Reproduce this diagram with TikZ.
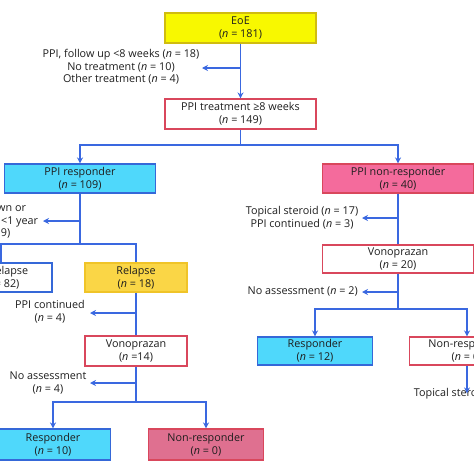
\documentclass[tikz,border=0pt]{standalone}
\usepackage{fontspec}
\setmainfont{Open Sans}
\usetikzlibrary{arrows.meta}
\definecolor{cyanf}{HTML}{4FD8FB}
\definecolor{blueb}{HTML}{3568D8}
\definecolor{redb}{HTML}{D9475C}
\definecolor{pinkf}{HTML}{F46B9C}
\definecolor{pinkd}{HTML}{DF7090}
\definecolor{yelf}{HTML}{F8F800}
\definecolor{yelb}{HTML}{D0BC10}
\definecolor{goldf}{HTML}{FAD646}
\definecolor{goldb}{HTML}{F0C428}
\definecolor{arr}{HTML}{3A68E0}
\definecolor{txt}{HTML}{1E1E1E}
\newcommand{\nv}[1]{(\textit{n} = #1)}
\begin{document}
\begin{tikzpicture}[x=1pt,y=-1pt,
  every node/.style={font=\fontsize{10.8}{12.6}\selectfont, text=txt},
  box/.style={draw, line width=1.1pt, inner sep=0pt, align=center, minimum height=30pt},
  wbox/.style={box, minimum width=151pt},
  nbox/.style={box, minimum width=102pt},
  sbox/.style={box, minimum width=115pt},
  lab/.style={align=center, inner sep=0pt},
  conn/.style={draw=arr, line width=1.1pt},
  arrw/.style={conn, -{Stealth[length=6pt,width=6pt]}}]
\useasboundingbox (0,0) rectangle (474,474);
\clip (0,0) rectangle (474,474);
% nodes
\node[wbox, fill=yelf, draw=yelb] (eoe) at (240.5,28) {EoE\\\nv{181}};
\node[wbox, fill=white, draw=redb] (ppi) at (240.5,114) {PPI treatment ≥8 weeks\\\nv{149}};
\node[wbox, fill=cyanf, draw=blueb, minimum height=29pt] (resp) at (80,178.5) {PPI responder\\\nv{109}};
\node[wbox, fill=pinkf, draw=redb, minimum height=29pt] (nonresp) at (398,178.5) {PPI non-responder\\\nv{40}};
\node[nbox, fill=white, draw=blueb, minimum height=29pt] (norel) at (1,277.5) {No relapse\\\nv{82}};
\node[nbox, fill=goldf, draw=goldb, minimum height=29pt] (rel) at (136,277.5) {Relapse\\\nv{18}};
\node[nbox, fill=white, draw=redb] (vono1) at (136,351) {Vonoprazan\\(\textit{n} =14)};
\node[sbox, fill=cyanf, draw=blueb, minimum height=31pt] (resp2) at (53,444.5) {Responder\\\nv{10}};
\node[sbox, fill=pinkd, draw=redb, minimum height=31pt] (nonresp2) at (206,444.5) {Non-responder\\\nv{0}};
\node[wbox, fill=white, draw=redb, minimum height=28pt] (vono2) at (398,259) {Vonoprazan\\\nv{20}};
\node[sbox, fill=cyanf, draw=blueb, minimum height=28pt] (resp3) at (315,351) {Responder\\\nv{12}};
\node[sbox, fill=white, draw=redb, minimum height=28pt] (nonresp3) at (467,351) {Non-responder\\\nv{6}};
\node[lab] (top3) at (467,394) {Topical steroid \nv{6}};
% side labels
\node[lab] (t1) at (121,67) {PPI, follow up <8 weeks \nv{18}\\No treatment \nv{10}\\Other treatment \nv{4}};
\node[lab] (t2) at (-5,221) {Unknown or\\follow up <1 year\\\nv{9}};
\node[lab] (t3) at (50,311.5) {PPI continued\\\nv{4}};
\node[lab] (t4) at (48,383) {No assessment\\\nv{4}};
\node[lab] (t5) at (302,217.5) {Topical steroid \nv{17}\\PPI continued \nv{3}};
\node[lab, anchor=east] (t6) at (358,291.5) {No assessment \nv{2}};
% coordinates
\coordinate (j1) at (240.5,68);
\coordinate (e1) at (202,68);
\coordinate (j2) at (240.5,145);
\coordinate (j2l) at (80,145);
\coordinate (j2r) at (398,145);
\coordinate (j3) at (80,221);
\coordinate (e3) at (43,221);
\coordinate (j4) at (80,244);
\coordinate (j4l) at (1,244);
\coordinate (j4r) at (136,244);
\coordinate (j5) at (136,313);
\coordinate (e5) at (90,313);
\coordinate (j6) at (136,383);
\coordinate (e6) at (90,383);
\coordinate (j7) at (136,402);
\coordinate (j7l) at (53,402);
\coordinate (j7r) at (206,402);
\coordinate (j8) at (398,218);
\coordinate (e8) at (362,218);
\coordinate (j9) at (398,292);
\coordinate (e9) at (362,292);
\coordinate (j10) at (398,309);
\coordinate (j10l) at (315,309);
\coordinate (j10r) at (467,309);
% connectors
\draw[arrw] (eoe.south) -- (ppi.north);
\draw[arrw] (j1) -- (e1);
\draw[conn] (ppi.south) -- (j2);
\draw[arrw] (j2) -- (j2l) -- (resp.north);
\draw[arrw] (j2) -- (j2r) -- (nonresp.north);
\draw[conn] (resp.south) -- (j4);
\draw[arrw] (j3) -- (e3);
\draw[conn] (j4) -- (j4l) -- (norel.north);
\draw[conn] (j4) -- (j4r) -- (rel.north);
\draw[conn] (rel.south) -- (vono1.north);
\draw[arrw] (j5) -- (e5);
\draw[conn] (vono1.south) -- (j7);
\draw[arrw] (j6) -- (e6);
\draw[arrw] (j7) -- (j7l) -- (resp2.north);
\draw[arrw] (j7) -- (j7r) -- (nonresp2.north);
\draw[conn] (nonresp.south) -- (vono2.north);
\draw[arrw] (j8) -- (e8);
\draw[conn] (vono2.south) -- (j10);
\draw[arrw] (j9) -- (e9);
\draw[arrw] (j10) -- (j10l) -- (resp3.north);
\draw[arrw] (j10) -- (j10r) -- (nonresp3.north);
\draw[arrw] (nonresp3.south) -- ([yshift=-5pt]top3.north);
\end{tikzpicture}
\end{document}
